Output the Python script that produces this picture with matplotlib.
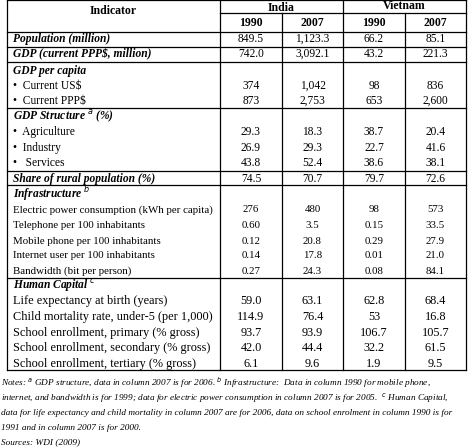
import matplotlib
matplotlib.use("Agg")
import matplotlib.pyplot as plt

labels = ["Population (million)", "GDP (current PPP$, million)", "GDP per capita",
          "\u2022  Current US$", "\u2022  Current PPP$", "GDP Structure $^{a}$ (%)",
          "\u2022  Agriculture", "\u2022  Industry", "\u2022   Services",
          "Share of rural population (%)", "Infrastructure $^{b}$",
          "Electric power consumption (kWh per capita)", "Telephone per 100 inhabitants",
          "Mobile phone per 100 inhabitants", "Internet user per 100 inhabitants",
          "Bandwidth (bit per person)", "Human Capital $^{c}$",
          "Life expectancy at birth (years)", "Child mortality rate, under-5 (per 1,000)",
          "School enrollment, primary (% gross)", "School enrollment, secondary (% gross)",
          "School enrollment, tertiary (% gross)"]
india_1990 = ["849.5", "742.0", "", "374", "873", "", "29.3", "26.9", "43.8", "74.5", "",
              "276", "0.60", "0.12", "0.14", "0.27", "", "59.0", "114.9", "93.7", "42.0", "6.1"]
india_2007 = ["1,123.3", "3,092.1", "", "1,042", "2,753", "", "18.3", "29.3", "52.4", "70.7", "",
              "480", "3.5", "20.8", "17.8", "24.3", "", "63.1", "76.4", "93.9", "44.4", "9.6"]
vietnam_1990 = ["66.2", "43.2", "", "98", "653", "", "38.7", "22.7", "38.6", "79.7", "",
                "98", "0.15", "0.29", "0.01", "0.08", "", "62.8", "53", "106.7", "32.2", "1.9"]
vietnam_2007 = ["85.1", "221.3", "", "836", "2,600", "", "20.4", "41.6", "38.1", "72.6", "",
                "573", "33.5", "27.9", "21.0", "84.1", "", "68.4", "16.8", "105.7", "61.5", "9.5"]
countries = ["India", "Vietnam"]
years = ["1990", "2007"]
notes = ["Notes: $^{a}$ GDP structure, data in column 2007 is for 2006. $^{b}$ Infrastructure:  Data in column 1990 for mobile phone,",
         "internet, and bandwidth is for 1999; data for electric power consumption in column 2007 is for 2005.  $^{c}$ Human Capital,",
         "data for life expectancy and child mortality in column 2007 are for 2006, data on school enrolment in column 1990 is for",
         "1991 and in column 2007 is for 2000."]
sources = "Sources: WDI (2009)"

bold_italic = {0, 1, 2, 5, 9, 10, 16}
large = set(range(17, 22))
small = set(range(11, 16))
row_y = [39, 54, 71, 86, 101, 117, 132, 148, 163, 179, 194, 210, 225, 241, 256, 271,
         286, 301, 317, 333, 348, 364]
hlines = [0.5, 32, 47, 62, 108, 171, 185, 278, 370]

fig = plt.figure(figsize=(4.74, 4.48), dpi=100)
ax = fig.add_axes([0, 0, 1, 1])
ax.set_xlim(0, 474); ax.set_ylim(448, 0); ax.axis("off")
FF = "Liberation Serif"
lw = 0.9
xl, xr = 7, 466
vx = [220, 282, 343, 405]
for y in hlines:
    ax.plot([xl, xr], [y, y], color="black", lw=lw)
ax.plot([xl, xl], [0.5, 370], color="black", lw=lw)
ax.plot([xr, xr], [0.5, 370], color="black", lw=lw)
for i, x in enumerate(vx):
    y0 = 0.5 if i in (0, 2) else 13
    ax.plot([x, x], [y0, 370], color="black", lw=lw)
ax.plot([220, xr], [13, 13], color="black", lw=lw)

ax.text(113, 11, "Indicator", ha="center", va="center", family=FF, weight="bold", fontsize=8.5)
for c, name in enumerate(countries):
    ax.text((vx[2*c] + (vx[2*c+2] if c == 0 else xr)) / 2, 6 if c else 8, name,
            ha="center", va="center", family=FF, weight="bold", fontsize=8.5)
cols = [india_1990, india_2007, vietnam_1990, vietnam_2007]
edges = vx + [xr]
for j in range(4):
    ax.text((edges[j] + edges[j+1]) / 2, 23, years[j % 2], ha="center", va="center",
            family=FF, weight="bold", fontsize=8.5)
for i, lab in enumerate(labels):
    kw = dict(family=FF, va="center")
    fs = 8.8 if i in large else (7.8 if i in small else 8.3)
    if i in bold_italic:
        kw.update(weight="bold", style="italic")
    ax.text(13, row_y[i], lab, fontsize=fs, **kw)
    for j in range(4):
        ax.text((edges[j] + edges[j+1]) / 2, row_y[i], cols[j][i], ha="center",
                va="center", family=FF, fontsize=fs)
for k, line in enumerate(notes):
    ax.text(1, 383 + 15 * k, line, family=FF, style="italic", fontsize=6.7, va="center")
ax.text(1, 442, sources, family=FF, style="italic", fontsize=6.7, va="center")
fig.savefig("out.png", dpi=100)
